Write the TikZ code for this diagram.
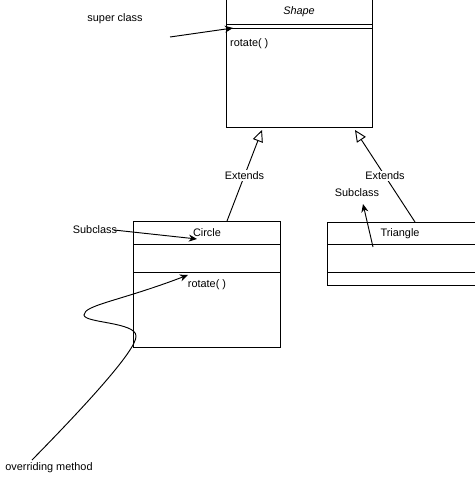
\documentclass[tikz,border=0pt]{standalone}
\usepackage{fontspec}
\setmainfont{Liberation Sans}
\usepackage{tikz}
\usetikzlibrary{arrows.meta}
\usetikzlibrary{positioning}

\begin{document}
\begin{tikzpicture}[x=0.03cm, y=-0.03cm, font=\fontsize{9.3}{11}\selectfont]
    \tikzstyle{cls}=[draw, line width=0.8pt, anchor=north west, inner sep=0pt]
    \tikzstyle{lbl}=[midway, inner sep = 1 pt, fill=white]
    \tikzstyle{ext}=[line width=0.8pt, -{Triangle[open, length=10pt, width=9pt]}]
    \tikzstyle{ptr}=[line width=0.8pt, -{Stealth[length=7pt, width=6pt]}]
    \useasboundingbox (0,0) rectangle (474,478);
    % class boxes
    \node[cls, minimum width=4.38cm, minimum height=3.93cm] (Shape) at (226,-4) {};
    \node[cls, minimum width=4.41cm, minimum height=3.78cm] (Circ) at (133,221) {};
    \node[cls, minimum width=4.89cm, minimum height=1.89cm] (Tri) at (327,222) {};
    \foreach \n/\y in {Shape/24, Shape/28, Circ/244, Circ/272, Tri/244, Tri/272}
    {\draw[line width=0.8pt] (\n.west |- 0,\y) -- (\n.east |- 0,\y);}
    \node (ShapeT) at (299,12) {\textit{Shape}};
    \node[anchor=west, inner sep=0pt] (ShapeM) at (230,44) {rotate( )};
    \node (CircT) at (207,233) {Circle};
    \node (CircM) at (207,285) {rotate( )};
    \node (TriT) at (400,234) {Triangle};
    % notes
    \node (SupL) at (115,19) {super class};
    \node (SubL) at (95,230) {Subclass};
    \node (SubR) at (357,193) {Subclass};
    \node (OvrL) at (49,468) {overriding method};
    \coordinate (supA) at (170,37);
    \coordinate (supB) at (233,28);
    \coordinate (subA) at (114,230);
    \coordinate (subB) at (197,239);
    \coordinate (subC) at (373,247);
    \coordinate (subD) at (363,204);
    \coordinate (ovrA) at (32,460);
    \coordinate (ovrB) at (188,275);
    % inheritance
    \coordinate (cUp) at (262,130);
    \coordinate (tUp) at (355,130);
    \coordinate (cLo) at (227,221);
    \coordinate (tLo) at (415,222);
    \foreach \i/\j in {cLo/cUp, tLo/tUp}
    {\draw[ext] (\i) --node[lbl]{Extends} (\j);}
    \draw[ptr] (supA) -- (supB);
    \draw[ptr] (subA) -- (subB);
    \draw[ptr] (subC) -- (subD);
    \draw[ptr] (ovrA) .. controls (82,409) and (137,350) .. (136,336)
        .. controls (136,322) and (84,323) .. (84,315)
        .. controls (84,305) and (120,301) .. (ovrB);
\end{tikzpicture}
\end{document}
